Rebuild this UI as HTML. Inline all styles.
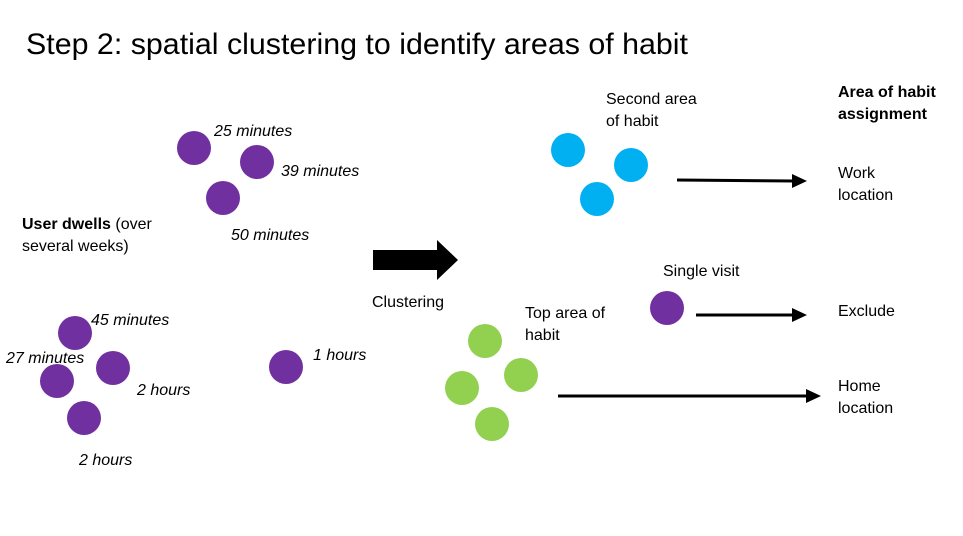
<!DOCTYPE html>
<html><head><meta charset="utf-8"><style>
body{margin:0;background:#fff;}
svg text{font-family:"Liberation Sans",sans-serif;font-size:16px;fill:#000;}
.i{font-style:italic;}
</style></head><body>
<svg width="963" height="531" viewBox="0 0 963 531" xmlns="http://www.w3.org/2000/svg">
<text x="26" y="54" style="font-size:30px" textLength="662" lengthAdjust="spacingAndGlyphs">Step 2: spatial clustering to identify areas of habit</text>
<g fill="#7030A0">
<circle cx="194" cy="148" r="17"/><circle cx="257" cy="162" r="17"/><circle cx="223" cy="198" r="17"/>
<circle cx="75" cy="333" r="17"/><circle cx="57" cy="381" r="17"/><circle cx="113" cy="368" r="17"/>
<circle cx="84" cy="418" r="17"/><circle cx="286" cy="367" r="17"/><circle cx="667" cy="308" r="17"/>
</g>
<g fill="#00B0F0"><circle cx="568" cy="150" r="17"/><circle cx="631" cy="165" r="17"/><circle cx="597" cy="199" r="17"/></g>
<g fill="#92D050"><circle cx="485" cy="341" r="17"/><circle cx="521" cy="375" r="17"/><circle cx="462" cy="388" r="17"/><circle cx="492" cy="424" r="17"/></g>
<text class="i" x="214" y="136">25 minutes</text>
<text class="i" x="281" y="176">39 minutes</text>
<text class="i" x="231" y="240">50 minutes</text>
<text class="i" x="91" y="325">45 minutes</text>
<text class="i" x="6" y="363">27 minutes</text>
<text class="i" x="137" y="395">2 hours</text>
<text class="i" x="79" y="465">2 hours</text>
<text class="i" x="313" y="360">1 hours</text>
<text x="22" y="229"><tspan font-weight="bold">User dwells</tspan> (over</text>
<text x="22" y="251">several weeks)</text>
<polygon points="373,250 437,250 437,240 458,260 437,280 437,270 373,270" fill="#000"/>
<text x="372" y="307">Clustering</text>
<text x="606" y="104">Second area</text><text x="606" y="126">of habit</text>
<text x="663" y="276">Single visit</text>
<text x="525" y="318">Top area of</text><text x="525" y="340">habit</text>
<text x="838" y="97" font-weight="bold">Area of habit</text><text x="838" y="119" font-weight="bold">assignment</text>
<text x="838" y="178">Work</text><text x="838" y="200">location</text>
<text x="838" y="316">Exclude</text>
<text x="838" y="391">Home</text><text x="838" y="413">location</text>
<g stroke="#000" stroke-width="3">
<line x1="677" y1="180" x2="794" y2="181"/><line x1="696" y1="315" x2="794" y2="315"/><line x1="558" y1="396" x2="808" y2="396"/>
</g>
<g fill="#000">
<polygon points="792,174 807,181 792,188"/><polygon points="792,308 807,315 792,322"/><polygon points="806,389 821,396 806,403"/>
</g>
</svg>
</body></html>
